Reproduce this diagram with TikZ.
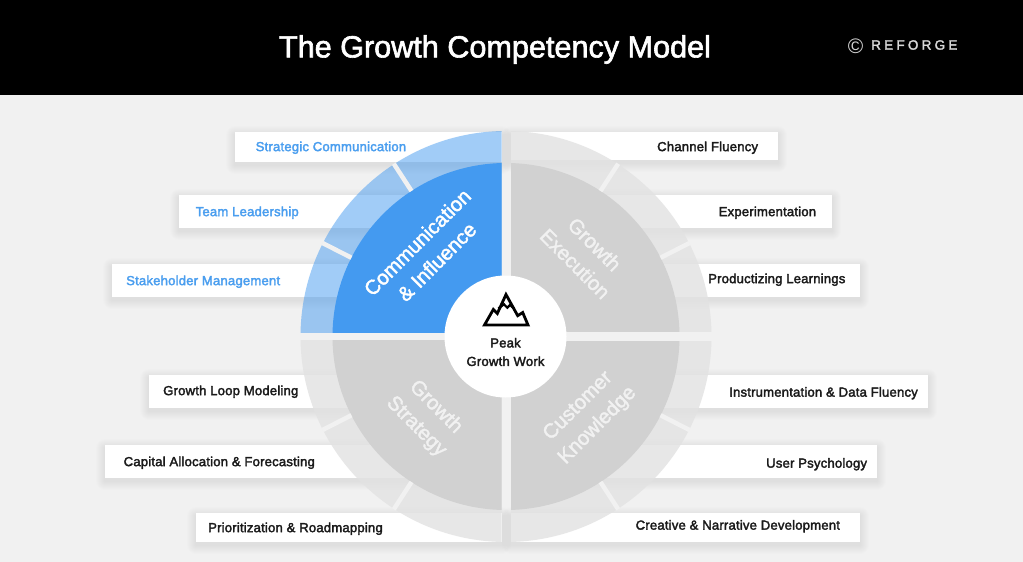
\documentclass[tikz,border=0pt]{standalone}
\usepackage{fontspec}
\setmainfont{Liberation Sans}
\newfontfamily\labfont{Liberation Sans}[FakeBold=2.4,LetterSpace=1.5]
\newfontfamily\quadfont{Liberation Sans}[FakeBold=2]
\definecolor{bgc}{HTML}{F1F1F1}
\definecolor{bluec}{HTML}{449AF0}
\definecolor{labblue}{HTML}{4A9EEF}
\definecolor{innergray}{HTML}{D1D1D1}
\definecolor{ringgray}{HTML}{E2E2E2}
\definecolor{ink}{HTML}{1A1A1A}
\tikzset{x=1pt,y=-1pt,
  labtext/.style={inner sep=0pt,font=\labfont\fontsize{13.1}{14}\selectfont,text=ink,anchor=mid west},
  bluetext/.style={labtext,text=labblue},
  boxshape/.style={fill=white,draw=none},
  quadtext/.style={inner sep=0pt,align=center,font=\quadfont\fontsize{20.3}{27.5}\selectfont,text=#1},
  tick/.style={draw=bgc,line width=4.5pt},
}
% soft shadow + white box
\newcommand{\labbox}[5]{%
  \foreach \s in {1,2,...,9}{\fill[black,opacity=0.007,rounded corners=\s pt] (#2-\s,#3+3-\s) rectangle (#4+\s,#5+3+\s);}
  \node[boxshape,inner sep=0pt,minimum width=#4-#2,minimum height=#5-#3,anchor=north west] (#1) at (#2,#3) {};
}
\newcommand{\quadrant}[6]{%
  \begin{scope}
   \clip (#1,#2) rectangle (#3,#4);
   \fill[#6] (506,336.5) circle[radius=205.5];
   \fill[#5] (506,336.5) circle[radius=173.5];
  \end{scope}
}
\begin{document}
\begin{tikzpicture}
\useasboundingbox (0,0) rectangle (1023,562);
\fill[bgc] (0,0) rectangle (1023,562);
\fill[black] (0,0) rectangle (1023,94.5);
\node[inner sep=0pt,font=\quadfont\fontsize{30.6}{34}\selectfont,text=white] (title) at (495,49.5) {The Growth Competency Model};
\node[inner sep=0pt,font=\fontsize{21}{22}\selectfont,text=white!82!black] (copy) at (855.5,46) {©};
\node[inner sep=0pt,anchor=mid west,font=\quadfont\fontsize{13.5}{15}\selectfont\addfontfeature{LetterSpace=24},text=white!85!black] (brand) at (871,47) {REFORGE};

\labbox{b1}{235}{132}{502}{162}
\labbox{b2}{179}{195}{450}{228}
\labbox{b3}{112}{264}{450}{297}
\labbox{b4}{511}{132}{778}{160}
\labbox{b5}{560}{195}{832}{228}
\labbox{b6}{560}{264}{860}{297}
\labbox{b7}{149}{375}{450}{408}
\labbox{b8}{105}{445}{450}{478}
\labbox{b9}{196}{513}{502}{542}
\labbox{b10}{560}{375}{928}{408}
\labbox{b11}{560}{445}{877}{478}
\labbox{b12}{511}{513}{860}{542}

\quadrant{300}{131}{501.5}{332.5}{bluec}{bluec,opacity=0.5}
\quadrant{511}{131}{712}{331.5}{innergray}{ringgray,opacity=0.8}
\quadrant{300}{340.5}{501.5}{542}{innergray}{ringgray,opacity=0.8}
\quadrant{511}{341}{712}{542}{innergray}{ringgray,opacity=0.8}

% ring dividers
\coordinate (cc) at (506,336.5);
\foreach \a in {27,57,123,153,207,237,303,333}{
  \draw[tick] ([shift={(-\a:173.5)}]cc) -- ([shift={(-\a:206)}]cc);
}

\node[bluetext] (t1) at (255.5,148.5) {Strategic Communication};
\node[bluetext] (t2) at (195.5,213.5) {Team Leadership};
\node[bluetext] (t3) at (126,282.5) {Stakeholder Management};
\node[labtext] (t4) at (657,148.5) {Channel Fluency};
\node[labtext] (t5) at (718.5,213.5) {Experimentation};
\node[labtext] (t6) at (708,280.5) {Productizing Learnings};
\node[labtext] (t7) at (163,392.5) {Growth Loop Modeling};
\node[labtext] (t8) at (123.5,463.5) {Capital Allocation \& Forecasting};
\node[labtext] (t9) at (208,529.5) {Prioritization \& Roadmapping};
\node[labtext] (t10) at (729,394) {Instrumentation \& Data Fluency};
\node[labtext] (t11) at (766,465) {User Psychology};
\node[labtext] (t12) at (635.5,527) {Creative \& Narrative Development};

\node[quadtext=white,rotate=45] (q1) at (427,252) {Communication\\\& Influence};
\node[quadtext=bgc,rotate=-45] (q2) at (585,254) {Growth\\Execution};
\node[quadtext=bgc,rotate=-45] (q3) at (426,417) {Growth\\Strategy};
\node[quadtext=bgc,rotate=45] (q4) at (588,416) {Customer\\Knowledge};

\node[circle,fill=white,inner sep=0pt,minimum size=122pt] (hub) at (505.5,336.5) {};
\draw[black,line width=2.8pt,miter limit=8,join=miter] (506,294.5) -- (517.7,315.7) -- (522.7,312.5) -- (528,325) -- (484.5,325) -- (493.3,309.5) -- (497.3,313.5) -- cycle;
\draw[black,line width=2.2pt] (498.3,308.5) -- (504,304.3) -- (507.3,307.7) -- (510,305) -- (514.5,309);
\node[inner sep=0pt,align=center,font=\labfont\fontsize{13.1}{18.5}\selectfont,text=ink] (hubtext) at (505.5,352) {Peak\\Growth Work};
\end{tikzpicture}
\end{document}
